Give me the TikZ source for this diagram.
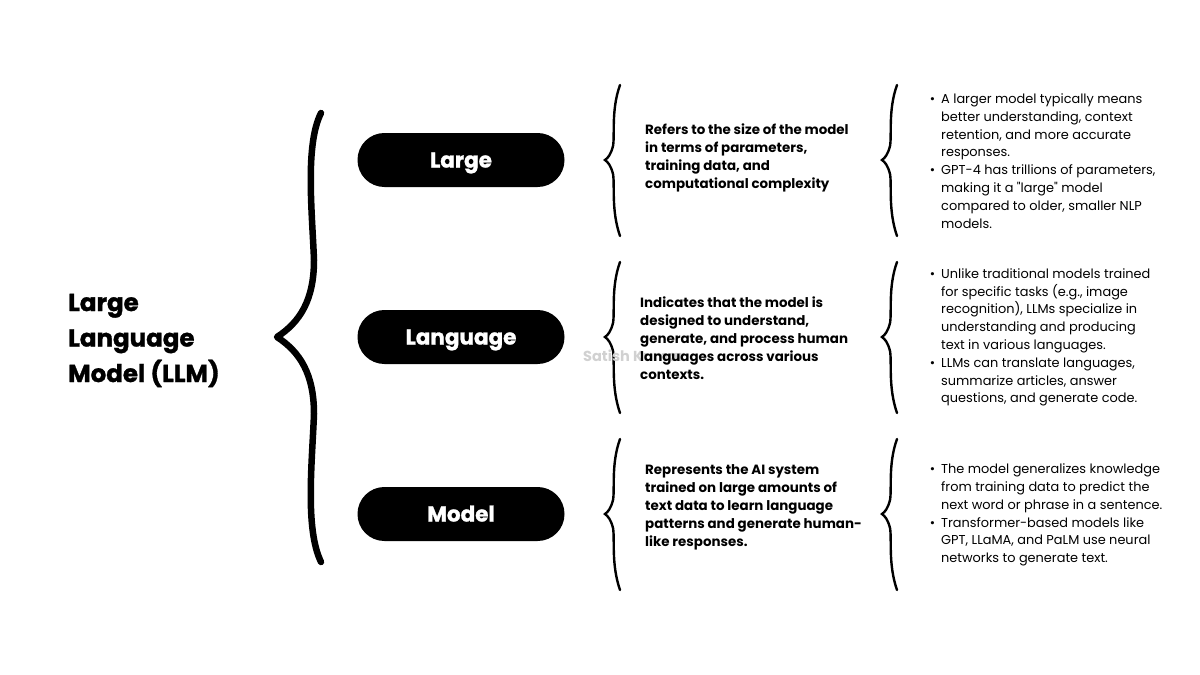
\documentclass[tikz,border=0pt]{standalone}
\usepackage{fontspec}
\setmainfont{Poppins}[Ligatures=TeXOff]
\newfontfamily\heavyfont{Poppins}[BoldFeatures={FakeBold=1.2}]
\newcommand{\sbrace}[2]{%
 \draw[smallbrace] (#1+15,#2-75) .. controls (#1+6,#2-50) and (#1+10,#2-25) .. (#1+8,#2-14) .. controls (#1+6,#2-6) and (#1+3,#2-2) .. (#1,#2) .. controls (#1+3,#2+2) and (#1+6,#2+6) .. (#1+8,#2+14) .. controls (#1+10,#2+25) and (#1+6,#2+50) .. (#1+15,#2+76);}
\newcommand{\bul}{\llap{\textbullet\hspace{6pt}}}
\begin{document}
\begin{tikzpicture}[x=1pt,y=-1pt,
  pill/.style={fill=black, rounded corners=26.9pt, minimum width=207pt, minimum height=54pt, text=white, font=\heavyfont\bfseries\fontsize{21.5}{24}\selectfont, inner sep=0, text height=15pt, text depth=0pt},
  bigbrace/.style={line width=6.5pt, line cap=round, line join=round},
  smallbrace/.style={line width=2.4pt, line cap=round},
  title/.style={anchor=west, align=left, inner sep=0, font=\heavyfont\bfseries\fontsize{24.5}{35.5}\selectfont},
  midtext/.style={anchor=west, align=left, inner sep=0, font=\bfseries\fontsize{13.4}{18}\selectfont},
  righttext/.style={anchor=west, align=left, inner sep=0, font=\fontsize{12.9}{17.8}\selectfont},
  wmark/.style={anchor=west, inner sep=0, text=black!18, font=\bfseries\fontsize{14.5}{16}\selectfont},
]
\useasboundingbox (0,0) rectangle (1200,675);
\fill[white] (0,0) rectangle (1200,675);

\node[title] (ttl) at (68,340.5) {Large\\Language\\Model (LLM)};

\draw[bigbrace] (321,113) .. controls (305,145) and (312,210) .. (314,260) .. controls (314,300) and (300,322) .. (277,337) .. controls (300,352) and (314,374) .. (314,414) .. controls (312,464) and (305,529) .. (321,562);

\node[pill] (p1) at (461,160) {Large};
\node[pill] (p2) at (461,337) {Language};
\node[pill] (p3) at (461,514) {Model};

\sbrace{605}{160}
\sbrace{605}{337}
\sbrace{605}{514}
\sbrace{882}{160}
\sbrace{882}{337}
\sbrace{882}{514}

\node[wmark] (wm) at (583,356) {Satish Kumar};

\node[midtext] (m1) at (645,158) {Refers to the size of the model\\in terms of parameters,\\training data, and\\computational complexity};
\node[midtext] (m2) at (640,338.5) {Indicates that the model is\\designed to understand,\\generate, and process human\\languages across various\\contexts.};
\node[midtext] (m3) at (645,507) {Represents the AI system\\trained on large amounts of\\text data to learn language\\patterns and generate human-\\like responses.};

\node[righttext] (r1) at (941,161) {\bul A larger model typically means\\better understanding, context\\retention, and more accurate\\responses.\\\bul GPT-4 has trillions of parameters,\\making it a "large" model\\compared to older, smaller NLP\\models.};
\node[righttext] (r2) at (941,337.5) {\bul Unlike traditional models trained\\for specific tasks (e.g., image\\recognition), LLMs specialize in\\understanding and producing\\text in various languages.\\\bul LLMs can translate languages,\\summarize articles, answer\\questions, and generate code.};
\node[righttext] (r3) at (941,515) {\bul The model generalizes knowledge\\from training data to predict the\\next word or phrase in a sentence.\\\bul Transformer-based models like\\GPT, LLaMA, and PaLM use neural\\networks to generate text.};
\end{tikzpicture}
\end{document}
